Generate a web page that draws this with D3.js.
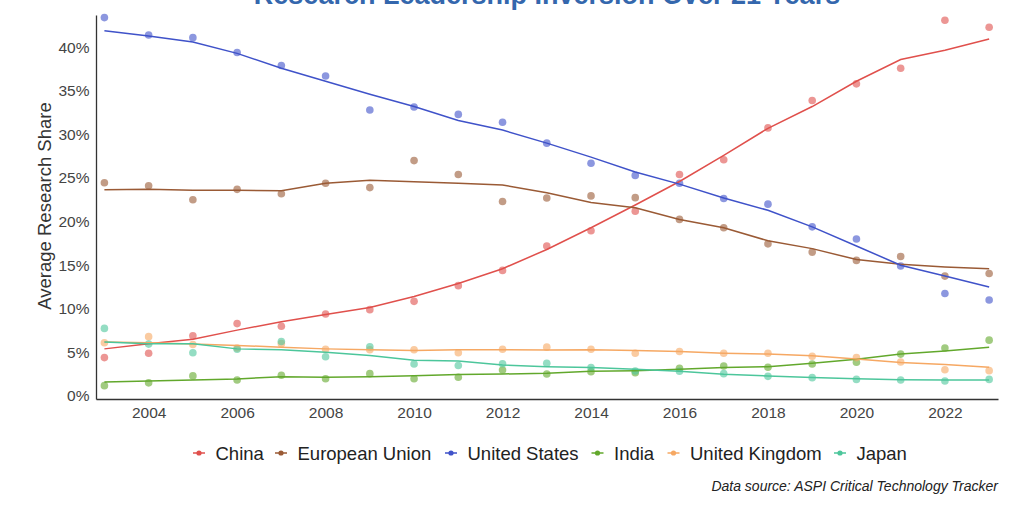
<!DOCTYPE html>
<html lang="en">
<head>
	<meta charset="UTF-8">
	<title>Research Leadership Inversion</title>
	<script src="https://cdn.jsdelivr.net/npm/d3@7"></script>
	<style>
		html,body{
			margin:0;
			padding:0;
			background:#fff;
		}
		svg{
			display:block;
			font-family:"Liberation Sans",Arial,sans-serif;
		}
		.axis text{
			font-size:15.5px;
			fill:#444;
		}
		.axis path{
			stroke:#333;
			stroke-width:1.3;
		}
	</style>
</head>
<body>
	<svg id="svg" width="1024" height="522"></svg>
	<script>
		var years = [2003,2004,2005,2006,2007,2008,2009,2010,2011,2012,2013,2014,2015,2016,2017,2018,2019,2020,2021,2022,2023];
		var xTicks = [2004,2006,2008,2010,2012,2014,2016,2018,2020,2022];
		var yTicks = [0,5,10,15,20,25,30,35,40];
		var countries = ["China","European Union","United States","India","United Kingdom","Japan"];

		// yearly shares (%) and the smoothed trend
		var china = [4.4,4.9,6.9,8.3,8.0,9.4,9.9,10.85,12.65,14.4,17.2,18.95,21.2,25.4,27.1,30.75,33.9,35.8,37.6,43.1,42.3];
		var chinaTrend = [5.4,6.0,6.5,7.55,8.5,9.35,10.15,11.4,12.9,14.6,16.8,19.3,21.9,24.6,27.6,30.7,33.2,36.1,38.6,39.65,40.95];
		var eu = [24.45,24.1,22.5,23.7,23.2,24.4,23.9,27.0,25.4,22.3,22.7,22.95,22.75,20.25,19.3,17.45,16.5,15.55,16.0,13.75,14.05];
		var euTrend = [23.65,23.7,23.6,23.6,23.55,24.4,24.75,24.56,24.4,24.2,23.3,22.2,21.6,20.25,19.3,17.8,16.9,15.65,15.1,14.8,14.6];
		var us = [43.4,41.4,41.1,39.4,37.9,36.7,32.8,33.15,32.3,31.4,29.0,26.7,25.3,24.4,22.65,22.0,19.4,18.0,14.9,11.75,11.0];
		var usTrend = [41.9,41.3,40.6,39.3,37.6,36.1,34.6,33.2,31.6,30.5,29.0,27.4,25.7,24.3,22.7,21.3,19.4,17.2,15.0,13.75,12.5];
		var india = [1.18,1.5,2.3,1.83,2.37,1.98,2.56,1.97,2.14,2.98,2.52,2.79,2.67,3.17,3.44,3.29,3.67,3.86,4.8,5.5,6.4];
		var indiaTrend = [1.6,1.72,1.83,1.95,2.2,2.14,2.2,2.33,2.45,2.52,2.6,2.83,2.9,3.05,3.25,3.36,3.75,4.2,4.8,5.15,5.6];
		var uk = [6.1,6.8,5.9,5.5,6.0,5.35,5.3,5.3,4.96,5.35,5.6,5.35,4.9,5.1,4.9,4.9,4.55,4.4,3.9,3.0,2.9];
		var ukTrend = [6.2,6.1,5.95,5.8,5.6,5.4,5.3,5.2,5.3,5.3,5.27,5.3,5.2,5.1,4.9,4.8,4.6,4.25,3.85,3.6,3.3];
		var japan = [7.75,5.95,4.96,5.35,6.25,4.5,5.65,3.67,3.5,3.7,3.75,3.25,2.87,2.83,2.56,2.25,2.1,1.9,1.83,1.72,1.9];
		var japanTrend = [6.2,6.0,6.0,5.4,5.3,5.0,4.65,4.1,4.0,3.55,3.36,3.25,3.05,2.83,2.5,2.3,2.12,1.98,1.87,1.83,1.83];

		var colors = ["#e0504c","#9a5a35","#3f52c9","#62a82c","#f6a863","#4cc69b"];

		window.onload = ()=>{
			var svg = d3.select("#svg");

			var series = countries.map((c,i)=>{
				return {
					name:c,
					color:colors[i],
					values:[china,eu,us,india,uk,japan][i],
					trend:[chinaTrend,euTrend,usTrend,indiaTrend,ukTrend,japanTrend][i]
				}
			})

			var xscale = d3.scaleLinear()
				.domain([2002.81,2023.2])
				.range([96,998])
			var yscale = d3.scaleLinear()
				.domain([-0.35,43.7])
				.range([399,15])

			// title (sits partly above the frame)
			svg.append("text")
				.attr("x",547)
				.attr("y",4)
				.attr("text-anchor","middle")
				.style("font-size","27px")
				.style("font-weight","bold")
				.style("fill","#3467ad")
				.text("Research Leadership Inversion Over 21 Years")

			svg.append("g").attr("class","axis")
				.attr("transform","translate(0,399)")
				.call(d3.axisBottom(xscale).tickValues(xTicks).tickFormat(d3.format("d")).tickSize(0).tickPadding(7.5))

			svg.append("g").attr("class","axis")
				.attr("transform","translate(96,0)")
				.call(d3.axisLeft(yscale).tickValues(yTicks).tickFormat((d)=>d+"%").tickSize(0).tickPadding(6.5))

			svg.append("text")
				.attr("transform","translate(51,206) rotate(-90)")
				.attr("text-anchor","middle")
				.style("font-size","18.5px")
				.style("fill","#333")
				.text("Average Research Share")

			var line = d3.line()
				.x((d,i)=>xscale(years[i]))
				.y((d)=>yscale(d))

			series.forEach((s)=>{
				svg.append("g")
					.selectAll("circle")
					.data(s.values)
					.enter().append("circle")
					.attr("cx",(d,i)=>xscale(years[i]))
					.attr("cy",(d)=>yscale(d))
					.attr("r",3.8)
					.style("fill",s.color)
					.style("opacity",0.6)
			})

			series.forEach((s)=>{
				svg.append("path")
					.datum(s.trend)
					.attr("d",line)
					.style("fill","none")
					.style("stroke",s.color)
					.style("stroke-width",1.5)
			})

			// legend
			var legendX = [199,281,451,597.5,673.5,840];
			var legend = svg.append("g")
				.selectAll("g")
				.data(series)
				.enter().append("g")
				.attr("transform",(d,i)=>"translate("+legendX[i]+",453)")
			legend.append("line")
				.attr("x1",-6).attr("x2",6)
				.style("stroke",(d)=>d.color)
				.style("stroke-width",1.5)
			legend.append("circle")
				.attr("r",2.6)
				.style("fill",(d)=>d.color)
			legend.append("text")
				.attr("x",16.5)
				.attr("y",6.6)
				.style("font-size","18.5px")
				.style("fill","#222")
				.text((d)=>d.name)

			svg.append("text")
				.attr("x",998)
				.attr("y",491)
				.attr("text-anchor","end")
				.style("font-size","14px")
				.style("font-style","italic")
				.style("fill","#222")
				.text("Data source: ASPI Critical Technology Tracker")
		}
	</script>
</body>
</html>
